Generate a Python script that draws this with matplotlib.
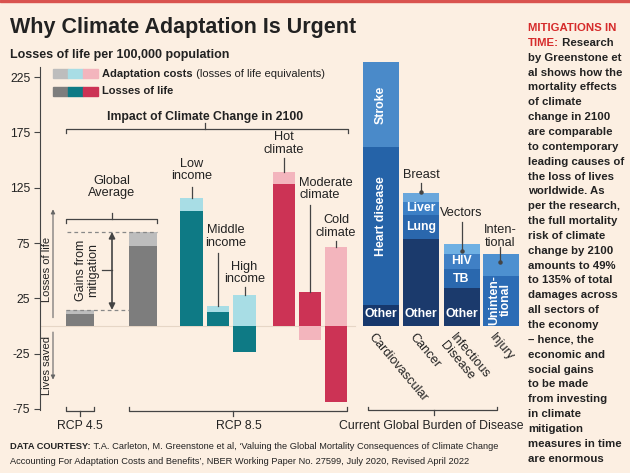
import matplotlib.pyplot as plt
from matplotlib.patches import Rectangle

plt.rcParams['font.family'] = ['Liberation Sans', 'DejaVu Sans']
plt.rcParams['axes.unicode_minus'] = False

BG = '#fcefe2'
INK = '#222222'
LINE = '#444444'

# impact of climate change in 2100, losses of life per 100,000
impact_labels = ['RCP 4.5', 'Global\nAverage', 'Low\nincome', 'Middle\nincome', 'High\nincome',
                 'Hot\nclimate', 'Moderate\nclimate', 'Cold\nclimate']
losses = [11, 72.5, 104, 12.5, -23.5, 128.5, 30.5, -69]
adapt_costs = [3.5, 12.5, 11.5, 5.5, 28, 10.5, -12.5, 71.5]

# current global burden of disease, stacked bottom to top
gbd_cats = ['Cardiovascular', 'Cancer', 'Infectious\nDisease', 'Injury']
cardio_parts = ['Other', 'Heart disease', 'Stroke']
cardio_vals = [19, 142.5, 77.5]
cancer_parts = ['Other', 'Lung', 'Liver', 'Breast']
cancer_vals = [78.5, 22, 12, 7.5]
infect_parts = ['Other', 'TB', 'HIV', 'Vectors']
infect_vals = [34, 17.5, 14, 8.5]
injury_parts = ['Uninten-\ntional', 'Intentional']
injury_vals = [45, 20]

yticks = [225, 175, 125, 75, 25, -25, -75]

# styling
impact_x = [80, 143, 191.5, 218, 244.5, 284, 310, 336]
impact_w = [28, 28, 23, 22, 23, 22, 22, 22]
dark = ['#7d7d7d'] * 2 + ['#0e7a85'] * 3 + ['#cc3355'] * 3
light = ['#bdbdbd'] * 2 + ['#a8dde5'] * 3 + ['#f3b5bd'] * 3

gbd_x = [380.5, 421, 461.5, 501]
gbd_w = 36
gbd_parts = [cardio_parts, cancer_parts, infect_parts, injury_parts]
gbd_vals = [cardio_vals, cancer_vals, infect_vals, injury_vals]
gbd_cols = [['#17386c', '#2563a8', '#4a8ac9'],
            ['#1b3a6c', '#2a67ad', '#3c80c6', '#6aa7dc'],
            ['#1b3a6c', '#2a68ae', '#4080c5', '#6fb0e3'],
            ['#2c6cb5', '#4d90d0']]

fig = plt.figure(figsize=(6.3, 4.73), dpi=100, facecolor=BG)
ax = fig.add_axes([40 / 630, 53 / 473, 480 / 630, 365 / 473])
ax.set_facecolor('none')
ax.set_xlim(40, 520)
ax.set_ylim(-85, 245)

for s in ['top', 'right', 'bottom']:
    ax.spines[s].set_visible(False)
ax.spines['left'].set_color(LINE)
ax.spines['left'].set_linewidth(0.8)
ax.spines['left'].set_bounds(-76, 234)
ax.set_xticks([])
ax.set_yticks(yticks)
ax.tick_params(axis='y', length=4, width=0.8, color=LINE, labelsize=8.8, labelcolor=INK, pad=3)

ax.plot([40, 355], [0, 0], color='#e6d6c6', lw=0.8, zorder=0)

# climate impact bars
for x, w, l, a, cd, cl in zip(impact_x, impact_w, losses, adapt_costs, dark, light):
    ax.bar(x, l, w, color=cd, zorder=2)
    bottom = l if l * a > 0 else 0
    ax.bar(x, a, w, bottom=bottom, color=cl, zorder=2)

# burden of disease stacks
for x, parts, vals, cols in zip(gbd_x, gbd_parts, gbd_vals, gbd_cols):
    bottom = 0
    for p, v, c in zip(parts, vals, cols):
        ax.bar(x, v, gbd_w, bottom=bottom, color=c, zorder=2)
        bottom += v

white = dict(color='white', fontweight='bold', fontsize=8.8, ha='center', va='center', zorder=3)
ax.text(gbd_x[0], 19 + 142.5 + 38, 'Stroke', rotation=90, **white)
ax.text(gbd_x[0], 19 + 80, 'Heart disease', rotation=90, **white)
for x in gbd_x[:3]:
    ax.text(x, 10.5, 'Other', **white)
ax.text(gbd_x[1], 106.5, 'Liver', **white)
ax.text(gbd_x[1], 89.5, 'Lung', **white)
ax.text(gbd_x[2], 59, 'HIV', **white)
ax.text(gbd_x[2], 42.5, 'TB', **white)
ax.text(gbd_x[3] - 1, 23.5, injury_parts[0], rotation=90, linespacing=0.95, **white)

# labels above the bars
lab = dict(fontsize=9.2, color=INK, ha='center', va='center', linespacing=1.05)
pointer = dict(color=LINE, lw=0.9)


def callout(tx, ty, text, lx, y0, y1, dot=False, **kw):
    opts = dict(lab)
    opts.update(kw)
    ax.text(tx, ty, text, **opts)
    ax.plot([lx, lx], [y0, y1], zorder=4, **pointer)
    if dot:
        ax.plot(lx, y1, 'o', ms=2.2, color=LINE, zorder=4)


callout(191.5, 141, impact_labels[2], 191.5, 125.5, adapt_costs[2] + losses[2])
callout(226, 81, impact_labels[3], 218, 66, adapt_costs[3] + losses[3])
callout(244.5, 48, impact_labels[4], 244.5, 35, adapt_costs[4])
callout(284, 165, impact_labels[5], 284, 152, adapt_costs[5] + losses[5])
callout(299, 124, impact_labels[6], 310, 109, losses[6], ha='left')
callout(336, 90, impact_labels[7], 336, 77, adapt_costs[7])
callout(421, 136.5, 'Breast', 421, 129, 121, dot=True)
callout(461.5, 102, 'Vectors', 461.5, 94, 68, dot=True)
callout(500, 81, 'Inten-\ntional', 500, 71, 58, dot=True)


# brackets
def bracket(x0, x1, y, xm, down=True):
    e = -3.2 if down else 3.2
    ax.plot([x0, x0, x1, x1], [y + e, y, y, y + e], color=LINE, lw=0.9, clip_on=False)
    ax.plot([xm, xm], [y, y - e * (1.6 if down else 1.3)], color=LINE, lw=0.9, clip_on=False)


bracket(66, 348, 178, 205)
ax.text(205, 189, 'Impact of Climate Change in 2100', fontsize=8.8, fontweight='bold',
        color=INK, ha='center', va='center')
bracket(66, 157, 96.7, 112)
ax.text(112, 125.5, impact_labels[1], **lab)

bracket(66, 94, -76.8, 80, down=False)
bracket(129, 347, -76.8, 233, down=False)
bracket(368, 497, -76, 434, down=False)
bottom_lab = dict(fontsize=8.8, color=INK, ha='center', va='center', clip_on=False)
ax.text(80, -90.5, impact_labels[0], **bottom_lab)
ax.text(239, -90.5, 'RCP 8.5', **bottom_lab)
ax.text(431, -90.5, 'Current Global Burden of Disease', **bottom_lab)

for x, c in zip(gbd_x, gbd_cats):
    ax.text(x - 5, -5, c, rotation=-50, rotation_mode='anchor', ha='left', va='top',
            fontsize=9.2, color=INK, linespacing=1.0)

# gains from mitigation
dash = dict(color='#888888', lw=0.9, ls=(0, (3, 2.5)), zorder=3)
ax.plot([67, 157], [85, 85], **dash)
ax.plot([66, 129], [14.5, 14.5], **dash)
ax.annotate('', xy=(112, 85), xytext=(112, 14.5),
            arrowprops=dict(arrowstyle='<|-|>', color='#444444', lw=1.2,
                            mutation_scale=9, shrinkA=0, shrinkB=0))
ax.plot([102, 112], [50.5, 50.5], color=LINE, lw=0.9)
ax.text(87, 50.5, 'Gains from\nmitigation', rotation=90, fontsize=9, color=INK,
        ha='center', va='center', linespacing=1.0)

# losses / lives saved side arrows
ax.annotate('', xy=(53, 108), xytext=(53, 5),
            arrowprops=dict(arrowstyle='-|>', color='#666666', lw=0.8, mutation_scale=6))
ax.annotate('', xy=(53, -51), xytext=(53, -3),
            arrowprops=dict(arrowstyle='-|>', color='#666666', lw=0.8, mutation_scale=6))
ax.text(47, 51.5, 'Losses of life', rotation=90, fontsize=8, color=INK, ha='center', va='center')
ax.text(47, -36, 'Lives saved', rotation=90, fontsize=8, color=INK, ha='center', va='center')

# legend
leg_light = ['#bdbdbd', '#a8dde5', '#f3b5bd']
leg_dark = ['#7d7d7d', '#0e7a85', '#cc3355']
for i in range(3):
    ax.add_patch(Rectangle((53 + 15 * i, 224), 15, 8.2, color=leg_light[i], clip_on=False))
    ax.add_patch(Rectangle((53 + 15 * i, 208), 15, 8.2, color=leg_dark[i], clip_on=False))
t = ax.text(102, 228.2, 'Adaptation costs', fontsize=8, fontweight='bold', color=INK, va='center')
ax.annotate(' (losses of life equivalents)', xy=(1, 0.5), xycoords=t, va='center',
            fontsize=8, color=INK)
ax.text(102, 212.2, 'Losses of life', fontsize=8, fontweight='bold', color=INK, va='center')

# titles and notes
fig.add_artist(Rectangle((0, 1 - 2.5 / 473), 1, 2.5 / 473, transform=fig.transFigure,
                         color='#d9534f'))
fig.text(10 / 630, 1 - 27 / 473, 'Why Climate Adaptation Is Urgent', fontsize=15.5,
         fontweight='bold', color=INK, va='center')
fig.text(10 / 630, 1 - 55 / 473, 'Losses of life per 100,000 population', fontsize=9,
         fontweight='bold', color=INK, va='center')

side = ['MITIGATIONS IN', 'TIME:', 'by Greenstone et', 'al shows how the', 'mortality effects',
        'of climate', 'change in 2100', 'are comparable', 'to contemporary',
        'leading causes of', 'the loss of lives', 'worldwide. As', 'per the research,',
        'the full mortality', 'risk of climate', 'change by 2100', 'amounts to 49%',
        'to 135% of total', 'damages across', 'all sectors of', 'the economy',
        '\u2013 hence, the', 'economic and', 'social gains', 'to be made',
        'from investing', 'in climate', 'mitigation', 'measures in time', 'are enormous']
for i, s in enumerate(side):
    col = '#d62b2b' if i < 2 else INK
    t = fig.text(528 / 630, 1 - (28 + 14.85 * i) / 473, s, fontsize=8.2, fontweight='bold',
                 color=col, va='center')
    if i == 1:
        ax.annotate(' Research', xy=(1, 0.5), xycoords=t, va='center', fontsize=8.2,
                    fontweight='bold', color=INK, annotation_clip=False)

t = fig.text(10 / 630, 1 - 446 / 473, 'DATA COURTESY:', fontsize=6.7, fontweight='bold',
             color=INK, va='center')
ax.annotate(' T.A. Carleton, M. Greenstone et al, \u2018Valuing the Global Mortality '
            'Consequences of Climate Change', xy=(1, 0.5), xycoords=t, va='center',
            fontsize=6.7, color=INK, annotation_clip=False)
fig.text(10 / 630, 1 - 461 / 473, 'Accounting For Adaptation Costs and Benefits\u2019, '
         'NBER Working Paper No. 27599, July 2020, Revised April 2022', fontsize=6.7,
         color=INK, va='center')

fig.savefig('out.png', dpi=100, facecolor=BG)
